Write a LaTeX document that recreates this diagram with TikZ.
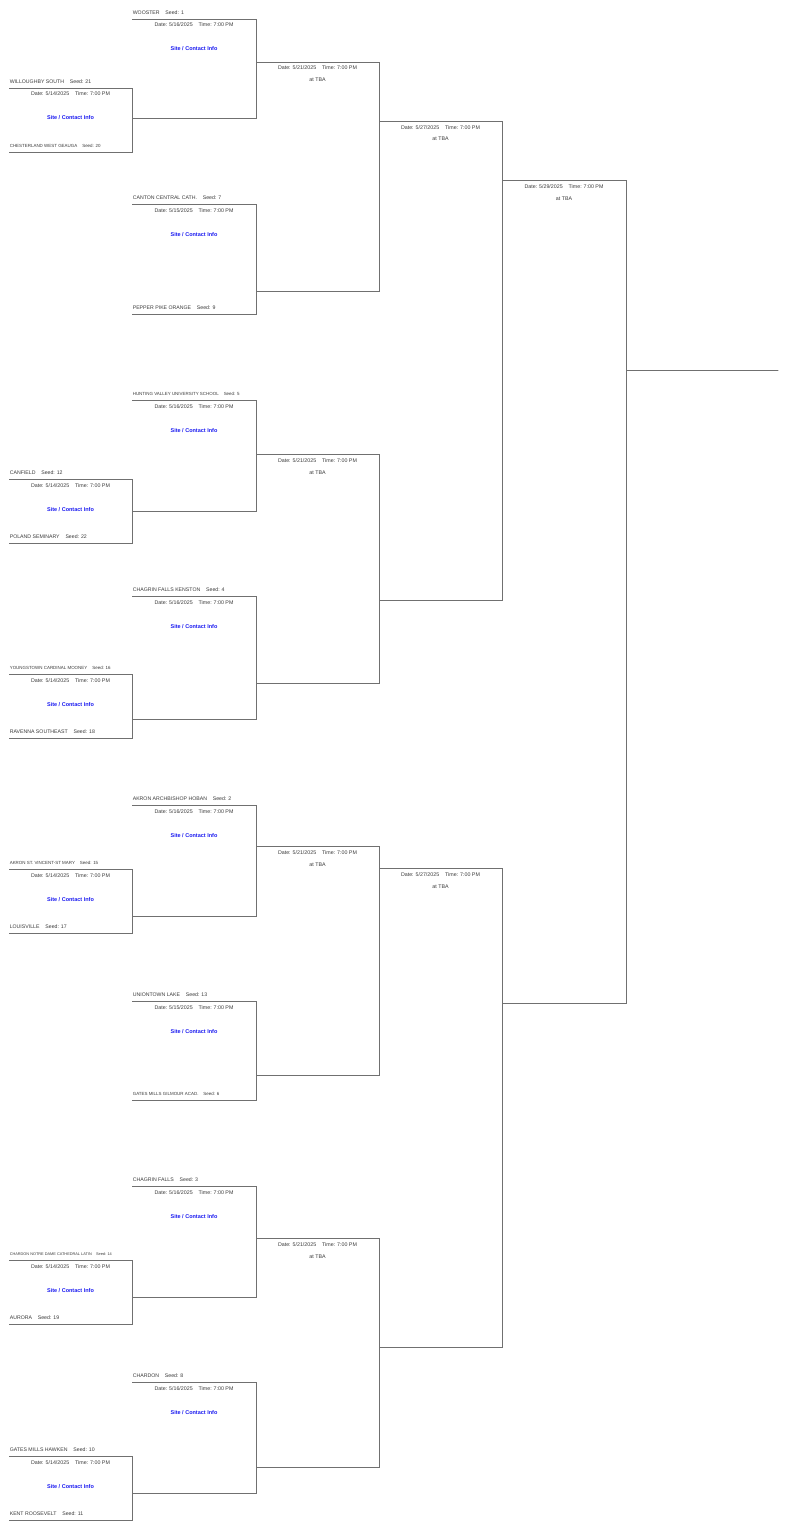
\documentclass[tikz,border=0pt]{standalone}
\usepackage{fontspec}
\setmainfont{Liberation Sans}
\definecolor{txt}{HTML}{3A3A3A}
\definecolor{lin}{HTML}{707070}
\definecolor{shd}{HTML}{D0D0D0}
\definecolor{site}{HTML}{1A1AF0}
\tikzset{
  bline/.style={draw=lin, line width=0.9pt},
  bshadow/.style={draw=shd, line width=0.9pt, transform canvas={xshift=0.9pt,yshift=-0.9pt}},
  teamN/.style={anchor=base west, inner sep=0pt, text=txt, font=\fontsize{5.2}{6}\selectfont},
  teamS/.style={anchor=base west, inner sep=0pt, text=txt, font=\fontsize{4.45}{5}\selectfont},
  teamT/.style={anchor=base west, inner sep=0pt, text=txt, font=\fontsize{3.85}{4.5}\selectfont},
  dateT/.style={anchor=base, inner sep=0pt, text=txt, font=\fontsize{5.3}{6}\selectfont},
  siteT/.style={anchor=base, inner sep=0pt, text=site, font=\fontsize{5.5}{6}\selectfont\bfseries},
  tbaT/.style={anchor=base, inner sep=0pt, text=txt, font=\fontsize{5.3}{6}\selectfont},
}
\newcommand\sd{\hspace{1.12em}}
% bracket: name, xl, xr, ytop, ybot
\newcommand\bracket[5]{%
  \coordinate (#1-tl) at (#2,#4);
  \coordinate (#1-tr) at (#3,#4);
  \coordinate (#1-br) at (#3,#5);
  \coordinate (#1-bl) at (#2,#5);
  \coordinate (#1-c) at ({(#2+#3)/2},#4);
  \draw[bshadow] (#1-tl) -- (#1-tr) -- (#1-br) -- (#1-bl);
  \draw[bline] (#1-tl) -- (#1-tr) -- (#1-br) -- (#1-bl);
}
% game with site info: name, date
\newcommand\siteinfo[2]{%
  \node[dateT] (#1-date) at ([yshift=-8pt]#1-c) {Date: #2\sd Time: 7:00 PM};
  \node[siteT] (#1-site) at ([yshift=-32pt]#1-c) {Site / Contact Info};
}
\newcommand\tbainfo[2]{%
  \node[dateT] (#1-date) at ([yshift=-8pt]#1-c) {Date: #2\sd Time: 7:00 PM};
  \node[tbaT] (#1-tba) at ([yshift=-20pt]#1-c) {at TBA};
}
% top team label: name, style, text
\newcommand\topteam[3]{%
  \node[#2] (#1-top) at ([xshift=0.6pt,yshift=4.7pt]#1-tl) {#3};
}
\newcommand\botteam[3]{%
  \node[#2] (#1-bot) at ([xshift=0.6pt,yshift=4.5pt]#1-bl) {#3};
}
\begin{document}
\begin{tikzpicture}[x=1pt,y=-1pt]
\useasboundingbox (0,0) rectangle (787,1536);

% ---- round 1 (first column)
\bracket{a1}{9}{132}{88}{152}
\bracket{a2}{9}{132}{479}{543}
\bracket{a3}{9}{132}{674}{738}
\bracket{a4}{9}{132}{869}{933}
\bracket{a5}{9}{132}{1260}{1324}
\bracket{a6}{9}{132}{1456}{1520}

% ---- round 2
\bracket{b1}{132}{256}{19}{118}
\bracket{b2}{132}{256}{204}{314}
\bracket{b3}{132}{256}{400}{511}
\bracket{b4}{132}{256}{596}{719}
\bracket{b5}{132}{256}{805}{916}
\bracket{b6}{132}{256}{1001}{1100}
\bracket{b7}{132}{256}{1186}{1297}
\bracket{b8}{132}{256}{1382}{1493}

% ---- quarterfinals
\bracket{c1}{256}{379}{62}{291}
\bracket{c2}{256}{379}{454}{683}
\bracket{c3}{256}{379}{846}{1075}
\bracket{c4}{256}{379}{1238}{1467}

% ---- semifinals
\bracket{d1}{379}{502}{121}{600}
\bracket{d2}{379}{502}{868}{1347}

% ---- final
\bracket{e1}{502}{626}{180}{1003}
\coordinate (win) at (778,370);
\coordinate (e1-out) at (626,370);
\draw[bshadow] (e1-out) -- (win);
\draw[bline] (e1-out) -- (win);

% ---- round 1 texts
\siteinfo{a1}{5/14/2025}
\topteam{a1}{teamN}{WILLOUGHBY SOUTH\sd Seed: 21}
\botteam{a1}{teamS}{CHESTERLAND WEST GEAUGA\sd Seed: 20}

\siteinfo{a2}{5/14/2025}
\topteam{a2}{teamN}{CANFIELD\sd Seed: 12}
\botteam{a2}{teamN}{POLAND SEMINARY\sd Seed: 22}

\siteinfo{a3}{5/14/2025}
\topteam{a3}{teamS}{YOUNGSTOWN CARDINAL MOONEY\sd Seed: 16}
\botteam{a3}{teamN}{RAVENNA SOUTHEAST\sd Seed: 18}

\siteinfo{a4}{5/14/2025}
\topteam{a4}{teamS}{AKRON ST. VINCENT-ST MARY\sd Seed: 15}
\botteam{a4}{teamN}{LOUISVILLE\sd Seed: 17}

\siteinfo{a5}{5/14/2025}
\topteam{a5}{teamT}{CHARDON NOTRE DAME CATHEDRAL LATIN\sd Seed: 14}
\botteam{a5}{teamN}{AURORA\sd Seed: 19}

\siteinfo{a6}{5/14/2025}
\topteam{a6}{teamN}{GATES MILLS HAWKEN\sd Seed: 10}
\botteam{a6}{teamN}{KENT ROOSEVELT\sd Seed: 11}

% ---- round 2 texts
\siteinfo{b1}{5/16/2025}
\topteam{b1}{teamN}{WOOSTER\sd Seed: 1}

\siteinfo{b2}{5/15/2025}
\topteam{b2}{teamN}{CANTON CENTRAL CATH.\sd Seed: 7}
\botteam{b2}{teamN}{PEPPER PIKE ORANGE\sd Seed: 9}

\siteinfo{b3}{5/16/2025}
\topteam{b3}{teamS}{HUNTING VALLEY UNIVERSITY SCHOOL\sd Seed: 5}

\siteinfo{b4}{5/16/2025}
\topteam{b4}{teamN}{CHAGRIN FALLS KENSTON\sd Seed: 4}

\siteinfo{b5}{5/16/2025}
\topteam{b5}{teamN}{AKRON ARCHBISHOP HOBAN\sd Seed: 2}

\siteinfo{b6}{5/15/2025}
\topteam{b6}{teamN}{UNIONTOWN LAKE\sd Seed: 13}
\botteam{b6}{teamS}{GATES MILLS GILMOUR ACAD.\sd Seed: 6}

\siteinfo{b7}{5/16/2025}
\topteam{b7}{teamN}{CHAGRIN FALLS\sd Seed: 3}

\siteinfo{b8}{5/16/2025}
\topteam{b8}{teamN}{CHARDON\sd Seed: 8}

% ---- later rounds
\tbainfo{c1}{5/21/2025}
\tbainfo{c2}{5/21/2025}
\tbainfo{c3}{5/21/2025}
\tbainfo{c4}{5/21/2025}
\tbainfo{d1}{5/27/2025}
\tbainfo{d2}{5/27/2025}
\tbainfo{e1}{5/29/2025}
\end{tikzpicture}
\end{document}
